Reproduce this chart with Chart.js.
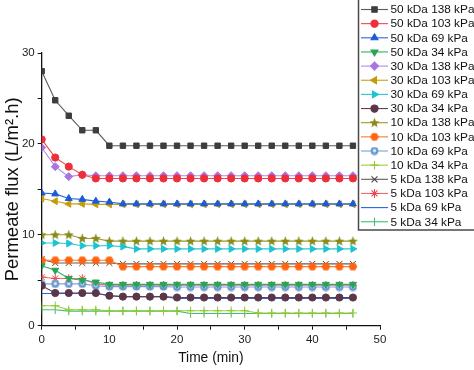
<!DOCTYPE html>
<html>
<head>
<meta charset="utf-8">
<script src="https://cdn.jsdelivr.net/npm/chart.js@4/dist/chart.umd.min.js"></script>
<style>
  html, body { margin: 0; padding: 0; background: #fff; }
  #wrap { width: 474px; height: 370px; }
</style>
</head>
<body>
<div id="wrap"><canvas id="grafica"></canvas></div>
<script>
// tiempos (min)
const tiempos = [0, 2, 4, 6, 8, 10, 12, 14, 16, 18, 20, 22, 24, 26, 28, 30, 32, 34, 36, 38, 40, 42, 44, 46];

// flujo de permeado (L/m2.h)
const kda50_138 = [28.0, 24.8, 23.1, 21.5, 21.5, 19.8, 19.8, 19.8, 19.8, 19.8, 19.8, 19.8, 19.8, 19.8, 19.8, 19.8, 19.8, 19.8, 19.8, 19.8, 19.8, 19.8, 19.8, 19.8];
const kda50_103 = [20.5, 18.5, 17.5, 16.6, 16.2, 16.2, 16.2, 16.2, 16.2, 16.2, 16.2, 16.2, 16.2, 16.2, 16.2, 16.2, 16.2, 16.2, 16.2, 16.2, 16.2, 16.2, 16.2, 16.2];
const kda50_69  = [14.6, 14.5, 14.0, 13.9, 13.7, 13.6, 13.4, 13.4, 13.4, 13.4, 13.4, 13.4, 13.4, 13.4, 13.4, 13.4, 13.4, 13.4, 13.4, 13.4, 13.4, 13.4, 13.4, 13.4];
const kda50_34  = [6.6, 6.1, 5.2, 5.0, 4.8, 4.55, 4.55, 4.55, 4.55, 4.55, 4.55, 4.55, 4.55, 4.55, 4.55, 4.55, 4.55, 4.55, 4.55, 4.55, 4.55, 4.55, 4.55, 4.55];
const kda30_138 = [19.6, 17.5, 16.4, 16.6, 16.5, 16.5, 16.5, 16.5, 16.5, 16.5, 16.5, 16.5, 16.5, 16.5, 16.5, 16.5, 16.5, 16.5, 16.5, 16.5, 16.5, 16.5, 16.5, 16.5];
const kda30_103 = [14.0, 13.7, 13.4, 13.4, 13.35, 13.35, 13.35, 13.35, 13.35, 13.35, 13.35, 13.35, 13.35, 13.35, 13.35, 13.35, 13.35, 13.35, 13.35, 13.35, 13.35, 13.35, 13.35, 13.35];
const kda30_69  = [9.1, 9.1, 9.05, 8.8, 8.8, 8.8, 8.7, 8.45, 8.45, 8.45, 8.45, 8.45, 8.45, 8.45, 8.45, 8.45, 8.45, 8.45, 8.45, 8.45, 8.45, 8.45, 8.45, 8.45];
const kda30_34  = [4.4, 3.6, 3.6, 3.6, 3.6, 3.3, 3.2, 3.2, 3.2, 3.2, 3.1, 3.1, 3.1, 3.1, 3.1, 3.1, 3.1, 3.1, 3.1, 3.1, 3.1, 3.1, 3.1, 3.1];
const kda10_138 = [10.0, 10.0, 10.0, 9.6, 9.6, 9.3, 9.3, 9.3, 9.3, 9.3, 9.3, 9.3, 9.3, 9.3, 9.3, 9.3, 9.3, 9.3, 9.3, 9.3, 9.3, 9.3, 9.3, 9.3];
const kda10_103 = [7.2, 7.2, 7.2, 7.2, 7.2, 7.2, 6.5, 6.5, 6.5, 6.5, 6.5, 6.5, 6.5, 6.5, 6.5, 6.5, 6.5, 6.5, 6.5, 6.5, 6.5, 6.5, 6.5, 6.5];
const kda10_69  = [4.6, 4.6, 4.6, 4.6, 4.4, 4.3, 4.3, 4.3, 4.3, 4.3, 4.25, 4.25, 4.25, 4.25, 4.25, 4.25, 4.25, 4.25, 4.25, 4.25, 4.25, 4.25, 4.25, 4.25];
const kda10_34  = [2.2, 2.2, 1.75, 1.75, 1.75, 1.65, 1.65, 1.65, 1.65, 1.65, 1.65, 1.65, 1.65, 1.65, 1.65, 1.65, 1.4, 1.4, 1.4, 1.4, 1.4, 1.4, 1.4, 1.4];
const kda5_138  = [7.3, 6.9, 6.9, 6.9, 6.9, 6.9, 6.8, 6.8, 6.8, 6.8, 6.8, 6.8, 6.8, 6.8, 6.8, 6.8, 6.8, 6.8, 6.8, 6.8, 6.8, 6.8, 6.8, 6.8];
const kda5_103  = [5.35, 5.2, 5.2, 5.2, 4.6, 4.45, 4.45, 4.45, 4.45, 4.45, 4.45, 4.45, 4.45, 4.45, 4.45, 4.45, 4.45, 4.45, 4.45, 4.45, 4.45, 4.45, 4.45, 4.45];
const kda5_69   = [3.55, 3.55, 3.55, 3.55, 3.55, 3.3, 3.2, 3.2, 3.2, 3.2, 3.0, 3.0, 3.0, 3.0, 3.0, 3.0, 3.0, 3.0, 3.0, 3.0, 3.0, 3.0, 3.0, 3.0];
const kda5_34   = [1.75, 1.75, 1.6, 1.6, 1.6, 1.6, 1.6, 1.6, 1.6, 1.6, 1.6, 1.35, 1.35, 1.35, 1.35, 1.35, 1.35, 1.35, 1.35, 1.35, 1.35, 1.35, 1.35, 1.35];

const etiquetas = ['50 kDa 138 kPa', '50 kDa 103 kPa', '50 kDa 69 kPa', '50 kDa 34 kPa',
                   '30 kDa 138 kPa', '30 kDa 103 kPa', '30 kDa 69 kPa', '30 kDa 34 kPa',
                   '10 kDa 138 kPa', '10 kDa 103 kPa', '10 kDa 69 kPa', '10 kDa 34 kPa',
                   '5 kDa 138 kPa', '5 kDa 103 kPa', '5 kDa 69 kPa', '5 kDa 34 kPa'];

// marcadores que Chart.js no trae (estrella rellena, hexagono, circulo con brillo)
function marcadorEstrella(color) {
    const c = document.createElement('canvas');
    c.width = 11; c.height = 11;
    const g = c.getContext('2d');
    g.fillStyle = color;
    g.beginPath();
    for (let i = 0; i < 10; i++) {
        const r = i % 2 === 0 ? 5.2 : 2.3;
        const a = -Math.PI / 2 + i * Math.PI / 5;
        g.lineTo(5.5 + r * Math.cos(a), 5.8 + r * Math.sin(a));
    }
    g.closePath();
    g.fill();
    return c;
}
function marcadorHexagono(color) {
    const c = document.createElement('canvas');
    c.width = 10; c.height = 10;
    const g = c.getContext('2d');
    g.fillStyle = color;
    g.beginPath();
    for (let i = 0; i < 6; i++) {
        const a = i * Math.PI / 3;
        g.lineTo(5 + 4.4 * Math.cos(a), 5 + 4.4 * Math.sin(a));
    }
    g.closePath();
    g.fill();
    return c;
}
function marcadorBrillo(color) {
    const c = document.createElement('canvas');
    c.width = 9; c.height = 9;
    const g = c.getContext('2d');
    g.fillStyle = color;
    g.beginPath(); g.arc(4.5, 4.5, 3.9, 0, Math.PI * 2); g.fill();
    g.fillStyle = '#e4eef8';
    g.beginPath(); g.arc(4.5, 4.2, 1.6, 0, Math.PI * 2); g.fill();
    return c;
}

function serie(label, valores, linea, punto, estilo, extra) {
    return Object.assign({
        label: label,
        data: valores.map((v, i) => ({ x: tiempos[i], y: v })),
        borderColor: linea,
        borderWidth: 1.1,
        pointBackgroundColor: punto,
        pointBorderColor: punto,
        pointBorderWidth: 1,
        pointStyle: estilo,
        pointRadius: 3.4,
        pointRotation: 0,
        tension: 0,
        fill: false
    }, extra || {});
}

const datasets = [
    serie(etiquetas[0], kda50_138, '#5a5a5a', '#3d3d3d', 'rect', { pointRadius: 3.8 }),
    serie(etiquetas[1], kda50_103, '#f0474f', '#ee2f3a', 'circle', { pointRadius: 3.6 }),
    serie(etiquetas[2], kda50_69, '#2c66d8', '#1d5bd4', 'triangle', { pointRadius: 4 }),
    serie(etiquetas[3], kda50_34, '#2fae5c', '#27a552', 'triangle', { pointRadius: 4, pointRotation: 180 }),
    serie(etiquetas[4], kda30_138, '#b28ae6', '#a875e3', 'rectRot', { pointRadius: 4 }),
    serie(etiquetas[5], kda30_103, '#c8a21a', '#c49c0a', 'triangle', { pointRadius: 4, pointRotation: -90 }),
    serie(etiquetas[6], kda30_69, '#2ac6d4', '#1cc3d2', 'triangle', { pointRadius: 4, pointRotation: 90 }),
    serie(etiquetas[7], kda30_34, '#6a3e52', '#5b3649', 'circle', { pointRadius: 3.6 }),
    serie(etiquetas[8], kda10_138, '#9a9a2a', '#8a8a1c', marcadorEstrella('#8a8a1c')),
    serie(etiquetas[9], kda10_103, '#ff7a2a', '#ff6510', marcadorHexagono('#ff6510')),
    serie(etiquetas[10], kda10_69, '#79a3d4', '#6a98cf', marcadorBrillo('#6a98cf')),
    serie(etiquetas[11], kda10_34, '#9fcd3a', '#93c82c', 'cross', { pointRadius: 4.2 }),
    serie(etiquetas[12], kda5_138, '#6b5a5a', '#454545', 'crossRot', { pointRadius: 4.2 }),
    serie(etiquetas[13], kda5_103, '#f06a70', '#f0404c', 'star', { pointRadius: 4.2 }),
    serie(etiquetas[14], kda5_69, '#2a64d6', '#2a64d6', 'line', { pointRadius: 0 }),
    serie(etiquetas[15], kda5_34, '#3fbf72', '#3fbf72', 'line', { pointRadius: 4.2, pointRotation: 90 })
];

// leyenda dibujada sobre el lienzo, en la esquina superior derecha
const leyendaCaja = {
    id: 'leyendaCaja',
    afterDraw(chart) {
        const ctx = chart.ctx;
        ctx.save();
        ctx.fillStyle = '#fff';
        ctx.fillRect(358, -2, 130, 232);
        ctx.strokeStyle = '#4a4a4a';
        ctx.lineWidth = 1.5;
        ctx.strokeRect(358.5, -2, 130, 232);
        ctx.font = '11.8px "Liberation Sans", Arial, sans-serif';
        ctx.textBaseline = 'middle';
        chart.data.datasets.forEach((ds, i) => {
            const y = 9.5 + i * 14.15;
            ctx.strokeStyle = ds.borderColor;
            ctx.lineWidth = 1.1;
            ctx.beginPath();
            ctx.moveTo(361, y);
            ctx.lineTo(388, y);
            ctx.stroke();
            if (ds.pointRadius > 0) {
                ctx.fillStyle = ds.pointBackgroundColor;
                ctx.strokeStyle = ds.pointBorderColor;
                Chart.helpers.drawPoint(ctx, {
                    pointStyle: ds.pointStyle,
                    rotation: ds.pointRotation,
                    radius: ds.pointRadius,
                    borderWidth: 1
                }, 374.5, y);
            }
            ctx.fillStyle = '#111';
            ctx.fillText(ds.label, 390.5, y + 0.5);
        });
        ctx.restore();
    }
};

const ctx = document.getElementById('grafica').getContext('2d');
Chart.defaults.font.family = '"Liberation Sans", Arial, sans-serif';
Chart.defaults.color = '#222';

new Chart(ctx, {
    type: 'line',
    data: { datasets: datasets },
    plugins: [leyendaCaja],
    options: {
        responsive: true,
        maintainAspectRatio: false,
        animation: false,
        layout: { padding: { left: 0, top: 53, right: 94, bottom: 0 } },
        plugins: {
            legend: { display: false },
            tooltip: { enabled: false }
        },
        scales: {
            x: {
                type: 'linear',
                min: 0,
                max: 50,
                afterFit: (s) => { s.height = 44.3; },
                border: { display: true, color: '#111', width: 1.3 },
                grid: { display: true, drawOnChartArea: false, drawTicks: true, tickLength: 4, color: '#111' },
                ticks: {
                    stepSize: 5,
                    padding: 3,
                    maxRotation: 0,
                    autoSkip: false,
                    font: { size: 11.5 },
                    callback: (v) => (v % 10 === 0 ? v : '')
                },
                title: {
                    display: true,
                    text: 'Time (min)',
                    font: { size: 13.8 },
                    color: '#111',
                    padding: { top: 0, bottom: 4 }
                }
            },
            y: {
                min: 0,
                max: 30,
                afterFit: (s) => { s.width = 41.7; },
                border: { display: true, color: '#111', width: 1.3 },
                grid: { display: true, drawOnChartArea: false, drawTicks: true, tickLength: 4, color: '#111' },
                ticks: {
                    stepSize: 5,
                    padding: 3,
                    autoSkip: false,
                    font: { size: 11.5 },
                    callback: (v) => (v % 10 === 0 ? v : '')
                },
                title: {
                    display: true,
                    text: 'Permeate flux (L/m².h)',
                    font: { size: 18.5 },
                    color: '#111',
                    padding: { top: 2, bottom: 0 }
                }
            }
        }
    }
});
</script>
</body>
</html>
